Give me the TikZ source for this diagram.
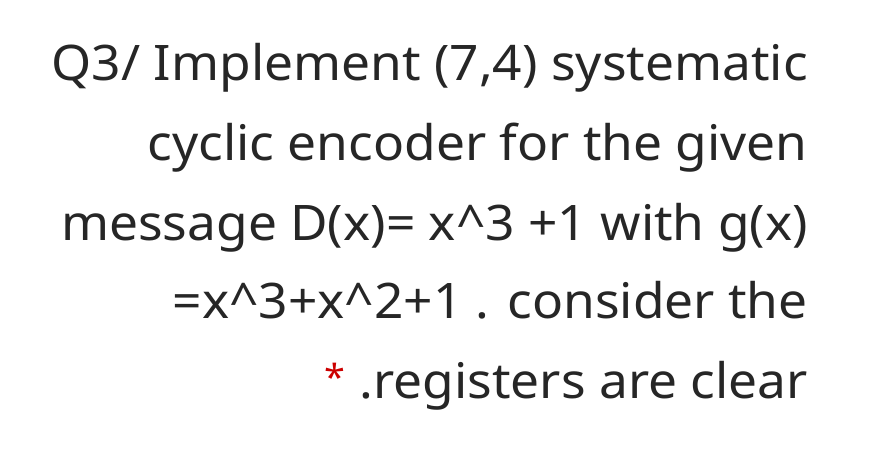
\documentclass[tikz,border=0pt]{standalone}
\usepackage{fontspec}
\setmainfont[FakeStretch=1.05]{Noto Sans}
\begin{document}
\begin{tikzpicture}[x=1pt,y=1pt,
  txt/.style={anchor=base east,inner sep=0pt,font=\fontsize{49}{56}\selectfont,text=black!85}]
\useasboundingbox (0,0) rectangle (885,-460);
\node[txt] (l1) at (808,-80) {Q3/ Implement (7,4) systematic};
\node[txt] (l2) at (808,-160) {cyclic encoder for the given};
\node[txt] (l3) at (808,-240) {message D(x)= x\^{}3 +1 with g(x)};
\node[txt] (l4) at (808,-318) {=x\^{}3+x\^{}2+1 . consider the};
\node[txt] (l5) at (808,-398) {.registers are clear};
\node[anchor=base east,inner sep=0pt,font=\fontsize{36}{40}\selectfont,text=red!80!black] (st) at ([xshift=-14pt,yshift=8pt]l5.base west) {*};
\end{tikzpicture}
\end{document}
